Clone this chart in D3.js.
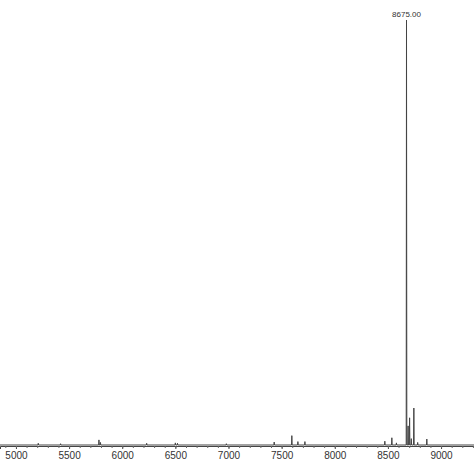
<!DOCTYPE html>
<html><head><meta charset="utf-8">
<script src="https://cdn.jsdelivr.net/npm/d3@7"></script>
<style>body{margin:0;background:#fff}</style></head>
<body><svg id="chart" width="474" height="474"></svg>
<script>
// peak m/z and relative intensity (%)
const peakMz = [5210, 5420, 5781, 5795, 6230, 6500, 6520, 6980, 7430, 7596, 7653, 7719, 8471, 8537, 8580, 8675, 8690, 8704, 8720, 8744, 8780, 8866];
const peakInt = [0.4, 0.3, 1.2, 0.6, 0.4, 0.5, 0.4, 0.3, 0.7, 2.2, 0.8, 0.8, 0.9, 1.7, 0.5, 100, 4.5, 6.4, 1.5, 8.7, 0.6, 1.4];
const majorTicks = [5000, 5500, 6000, 6500, 7000, 7500, 8000, 8500, 9000];
const labelPeak = 8675;

const svg = d3.select("#chart");
const x = d3.scaleLinear().domain([4850, 9310]).range([0, 474]);
const y = d3.scaleLinear().domain([0, 100]).range([445, 20]);

// build the stick trace
const pts = [[4850, 0]];
peakMz.forEach((m, i) => {
  pts.push([m - 3, 0], [m, peakInt[i]], [m + 3, 0]);
});
pts.push([9310, 0]);

svg.append("path")
  .attr("d", d3.line().x(d => x(d[0])).y(d => y(d[1]))(pts))
  .attr("fill", "none")
  .attr("stroke", "#444")
  .attr("stroke-width", 1);

const axis = svg.append("g")
  .attr("transform", "translate(0,446)")
  .call(d3.axisBottom(x).tickValues(majorTicks).tickSize(3).tickFormat(d3.format("d")));
axis.select(".domain").attr("stroke", "#444");
axis.selectAll("text").attr("font-family", "Liberation Sans, Arial").attr("font-size", 10).attr("fill", "#333");
axis.selectAll("line").attr("stroke", "#444");

svg.append("g")
  .attr("transform", "translate(0,446)")
  .call(d3.axisBottom(x).tickValues(d3.range(4900, 9310, 100)).tickSize(2).tickFormat(""))
  .call(g => g.select(".domain").remove())
  .selectAll("line").attr("stroke", "#666");

svg.append("text")
  .attr("x", x(labelPeak)).attr("y", 17)
  .attr("text-anchor", "middle")
  .attr("font-family", "Liberation Sans, Arial").attr("font-size", 8).attr("fill", "#333")
  .text(labelPeak.toFixed(2));
</script></body></html>
